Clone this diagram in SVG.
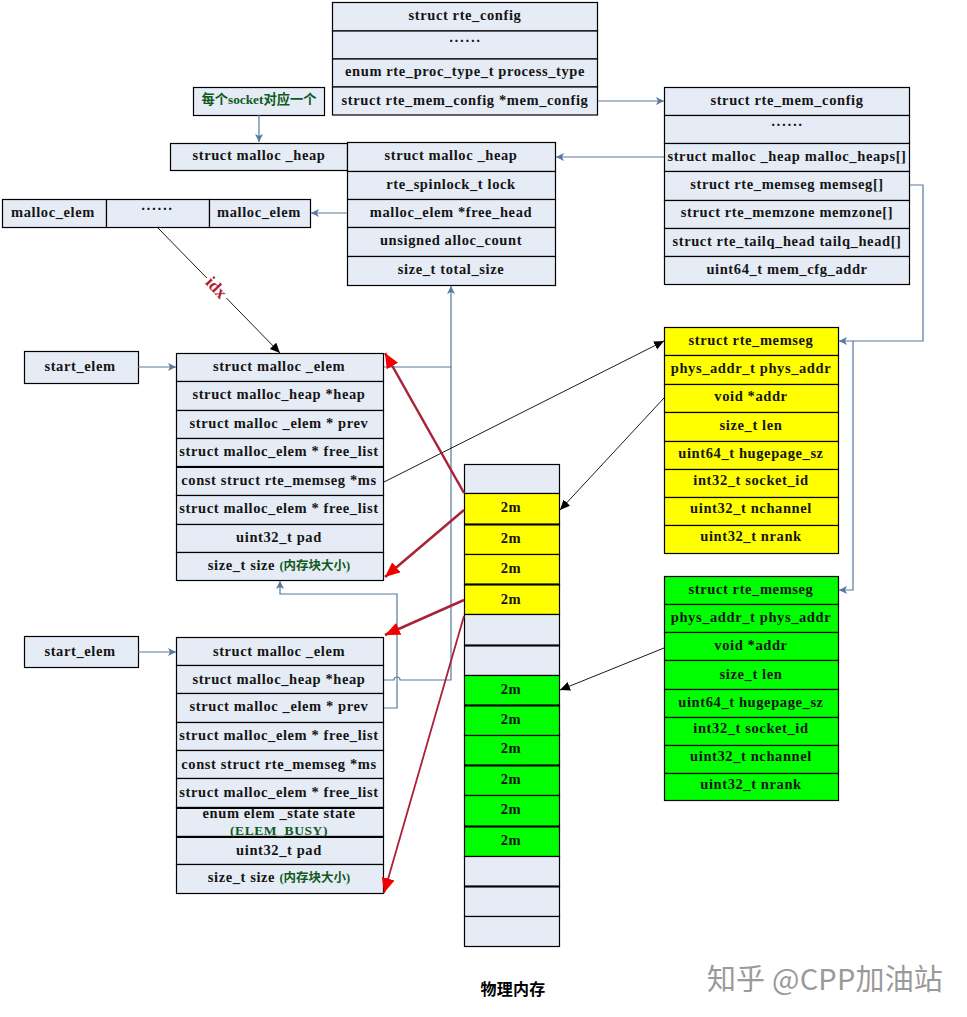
<svg xmlns="http://www.w3.org/2000/svg" width="967" height="1017" viewBox="0 0 967 1017">
<style>
.b{fill:#e6ecf6;stroke:#000;stroke-width:1.2}
.y{fill:#ffff00;stroke:#000;stroke-width:1.2}
.g{fill:#00ff00;stroke:#000;stroke-width:1.2}
text{font-family:"Liberation Serif","Noto Sans CJK SC",serif;font-weight:bold;font-size:14.5px;letter-spacing:.6px;fill:#151515;text-anchor:middle}
g text{transform:translateY(-.8px)}
.n{fill:#0f5a1c}
.z{font-size:12.5px;letter-spacing:0}
.c{fill:none;stroke:#57799c;stroke-width:1.2}
.k{fill:none;stroke:#000;stroke-width:.9}
.r{fill:none;stroke:#a82238;stroke-width:2.5}
</style>
<defs>
<marker id="ab" markerUnits="userSpaceOnUse" markerWidth="9" markerHeight="9" refX="8" refY="4" orient="auto"><path d="M0 0L8 4L0 8L2 4Z" fill="#57799c"/></marker>
<marker id="ak" markerUnits="userSpaceOnUse" markerWidth="11" markerHeight="10" refX="10" refY="4.5" orient="auto"><path d="M0 0L10 4.5L0 9Z" fill="#000"/></marker>
<marker id="ar" markerUnits="userSpaceOnUse" markerWidth="16" markerHeight="14" refX="15" refY="6.5" orient="auto"><path d="M0 0L15 6.500L0 13Z" fill="#f00000"/></marker>
</defs>
<rect width="967" height="1017" fill="#fff"/>
<g id="rte_config">
<rect class="b" x="332.500" y="2.500" width="265" height="28.500"/><rect class="b" x="332.500" y="31" width="265" height="28"/><rect class="b" x="332.500" y="59" width="265" height="28"/><rect class="b" x="332.500" y="87" width="265" height="28"/>
<text x="465" y="21">struct rte_config</text><text x="465" y="47">······</text><text x="465" y="77">enum rte_proc_type_t process_type</text><text x="465" y="106">struct rte_mem_config *mem_config</text>
</g>
<g id="rte_mem_config">
<rect class="b" x="664.500" y="87.500" width="245" height="28"/><rect class="b" x="664.500" y="115.500" width="245" height="28"/><rect class="b" x="664.500" y="143.500" width="245" height="28"/><rect class="b" x="664.500" y="171.500" width="245" height="29"/><rect class="b" x="664.500" y="200.500" width="245" height="28"/><rect class="b" x="664.500" y="228.500" width="245" height="28"/><rect class="b" x="664.500" y="256.500" width="245" height="28"/>
<text x="787" y="106">struct rte_mem_config</text><text x="787" y="131">······</text><text x="787" y="162">struct malloc _heap malloc_heaps[]</text><text x="787" y="190">struct rte_memseg memseg[]</text><text x="787" y="218">struct rte_memzone memzone[]</text><text x="787" y="247">struct rte_tailq_head tailq_head[]</text><text x="787" y="275">uint64_t mem_cfg_addr</text>
</g>
<g id="socket_note"><rect class="b" x="193.500" y="87.500" width="131" height="28"/><text class="n" x="259" y="105" style="font-size:13.300px;letter-spacing:0">每个socket对应一个</text></g>
<g id="malloc_heap_small"><rect class="b" x="170.500" y="143.500" width="177" height="27"/><text x="259" y="161">struct malloc _heap</text></g>
<g id="malloc_heap">
<rect class="b" x="347.500" y="142.500" width="208" height="29"/><rect class="b" x="347.500" y="171.500" width="208" height="28"/><rect class="b" x="347.500" y="199.500" width="208" height="28"/><rect class="b" x="347.500" y="227.500" width="208" height="29"/><rect class="b" x="347.500" y="256.500" width="208" height="29"/>
<text x="451" y="161">struct malloc _heap</text><text x="451" y="190">rte_spinlock_t lock</text><text x="451" y="218">malloc_elem *free_head</text><text x="451" y="246">unsigned alloc_count</text><text x="451" y="275">size_t total_size</text>
</g>
<g id="malloc_elem_list">
<rect class="b" x="2.500" y="199.500" width="104" height="28"/><rect class="b" x="106.500" y="199.500" width="103" height="28"/><rect class="b" x="209.500" y="199.500" width="101" height="28"/>
<text x="53" y="218">malloc_elem</text><text x="157" y="215">······</text><text x="259" y="218">malloc_elem</text>
</g>
<g id="start_elem_1"><rect class="b" x="24.500" y="351.500" width="114" height="32"/><text x="80" y="372">start_elem</text></g>
<g id="start_elem_2"><rect class="b" x="24.500" y="636.500" width="114" height="31"/><text x="80" y="657">start_elem</text></g>
<g id="elem_1">
<rect class="b" x="176.500" y="353.500" width="207" height="28"/><rect class="b" x="176.500" y="381.500" width="207" height="29"/><rect class="b" x="176.500" y="410.500" width="207" height="28"/><rect class="b" x="176.500" y="438.500" width="207" height="28"/><rect class="b" x="176.500" y="467" width="207" height="28.500"/><rect class="b" x="176.500" y="495.500" width="207" height="29"/><rect class="b" x="176.500" y="524.500" width="207" height="28"/><rect class="b" x="176.500" y="552.500" width="207" height="28"/>
<path d="M176 467H384" stroke="#000" stroke-width="2"/>
<text x="279" y="372">struct malloc _elem</text><text x="279" y="400">struct malloc_heap *heap</text><text x="279" y="429">struct malloc _elem * prev</text><text x="279" y="457">struct malloc_elem * free_list</text><text x="279" y="486">const struct rte_memseg *ms</text><text x="279" y="514">struct malloc_elem * free_list</text><text x="279" y="543">uint32_t pad</text><text x="279" y="571">size_t size <tspan class="n z">(内存块大小)</tspan></text>
</g>
<g id="elem_2">
<rect class="b" x="176.500" y="637.500" width="207" height="28"/><rect class="b" x="176.500" y="665.500" width="207" height="28"/><rect class="b" x="176.500" y="693.500" width="207" height="29"/><rect class="b" x="176.500" y="722.500" width="207" height="28"/><rect class="b" x="176.500" y="750.500" width="207" height="28"/><rect class="b" x="176.500" y="778.500" width="207" height="29"/><rect class="b" x="176.500" y="807.500" width="207" height="29"/><rect class="b" x="176.500" y="836.500" width="207" height="28"/><rect class="b" x="176.500" y="864.500" width="207" height="29"/>
<path d="M176 808H384M176 837H384" stroke="#000" stroke-width="2"/>
<text x="279" y="657">struct malloc _elem</text><text x="279" y="685">struct malloc_heap *heap</text><text x="279" y="712">struct malloc _elem * prev</text><text x="279" y="741">struct malloc_elem * free_list</text><text x="279" y="770">const struct rte_memseg *ms</text><text x="279" y="798">struct malloc_elem * free_list</text><text x="279" y="819">enum elem _state state</text><text class="n" x="279" y="836" style="font-size:13.500px">(ELEM_BUSY)</text><text x="279" y="856">uint32_t pad</text><text x="279" y="883">size_t size <tspan class="n z">(内存块大小)</tspan></text>
</g>
<g id="memseg_yellow">
<rect class="y" x="664.500" y="327.500" width="174" height="28"/><rect class="y" x="664.500" y="355.500" width="174" height="29"/><rect class="y" x="664.500" y="384.500" width="174" height="28"/><rect class="y" x="664.500" y="412.500" width="174" height="29"/><rect class="y" x="664.500" y="441.500" width="174" height="28"/><rect class="y" x="664.500" y="469.500" width="174" height="28"/><rect class="y" x="664.500" y="497.500" width="174" height="28"/><rect class="y" x="664.500" y="525.500" width="174" height="28"/>
<text x="751" y="346">struct rte_memseg</text><text x="751" y="374">phys_addr_t phys_addr</text><text x="751" y="402">void *addr</text><text x="751" y="431">size_t len</text><text x="751" y="459">uint64_t hugepage_sz</text><text x="751" y="486">int32_t socket_id</text><text x="751" y="514">uint32_t nchannel</text><text x="751" y="542">uint32_t nrank</text>
</g>
<g id="memseg_green">
<rect class="g" x="664.500" y="576.500" width="174" height="28"/><rect class="g" x="664.500" y="604.500" width="174" height="28"/><rect class="g" x="664.500" y="632.500" width="174" height="28"/><rect class="g" x="664.500" y="660.500" width="174" height="29"/><rect class="g" x="664.500" y="689.500" width="174" height="28"/><rect class="g" x="664.500" y="717.500" width="174" height="28"/><rect class="g" x="664.500" y="745.500" width="174" height="28"/><rect class="g" x="664.500" y="773.500" width="174" height="27"/>
<text x="751" y="595">struct rte_memseg</text><text x="751" y="623">phys_addr_t phys_addr</text><text x="751" y="651">void *addr</text><text x="751" y="680">size_t len</text><text x="751" y="708">uint64_t hugepage_sz</text><text x="751" y="734">int32_t socket_id</text><text x="751" y="762">uint32_t nchannel</text><text x="751" y="790">uint32_t nrank</text>
</g>
<g id="physical_memory">
<rect class="b" x="464.500" y="464.500" width="95" height="29"/>
<rect class="y" x="464.500" y="493.500" width="95" height="31"/><rect class="y" x="464.500" y="524.500" width="95" height="30"/><rect class="y" x="464.500" y="554.500" width="95" height="30"/><rect class="y" x="464.500" y="584.500" width="95" height="30"/>
<rect class="b" x="464.500" y="614.500" width="95" height="31"/><rect class="b" x="464.500" y="645.500" width="95" height="30"/>
<rect class="g" x="464.500" y="675.500" width="95" height="30"/><rect class="g" x="464.500" y="705.500" width="95" height="30"/><rect class="g" x="464.500" y="735.500" width="95" height="30"/><rect class="g" x="464.500" y="765.500" width="95" height="30"/><rect class="g" x="464.500" y="795.500" width="95" height="31"/><rect class="g" x="464.500" y="826.500" width="95" height="30"/>
<rect class="b" x="464.500" y="856.500" width="95" height="30"/><rect class="b" x="464.500" y="886.500" width="95" height="30"/><rect class="b" x="464.500" y="916.500" width="95" height="30"/>
<path d="M464 524.500H560M464 584.500H560M464 645.500H560M464 705.500H560M464 765.500H560M464 826.500H560M464 886.500H560" stroke="#000" stroke-width="1.800"/>
<text x="511" y="513">2m</text><text x="511" y="544">2m</text><text x="511" y="574">2m</text><text x="511" y="605">2m</text><text x="511" y="695">2m</text><text x="511" y="725">2m</text><text x="511" y="754">2m</text><text x="511" y="785">2m</text><text x="511" y="815">2m</text><text x="511" y="846">2m</text>
</g>
<g id="connectors">
<path class="c" marker-end="url(#ab)" d="M598 101H664"/>
<path class="c" marker-end="url(#ab)" d="M664 157H556"/>
<path class="c" marker-end="url(#ab)" d="M910 185H923V341H839"/>
<path class="c" marker-end="url(#ab)" d="M853 341V590H839"/>
<path class="c" marker-end="url(#ab)" d="M347 213H311"/>
<path class="c" marker-end="url(#ab)" d="M259 115V142"/>
<path class="c" marker-end="url(#ab)" d="M138 367H176"/>
<path class="c" marker-end="url(#ab)" d="M138 652H176"/>
<path class="c" marker-end="url(#ab)" d="M384 367H451V286"/>
<path class="c" d="M384 680H394A3 3 0 0 1 400 680H451V367"/>
<path class="c" marker-end="url(#ab)" d="M384 708H397V594H280V581"/>
<path class="k" marker-end="url(#ak)" d="M158 228L280 353"/>
<path class="k" marker-end="url(#ak)" d="M384 482L664 341"/>
<path class="k" marker-end="url(#ak)" d="M664 398L560 510"/>
<path class="k" marker-end="url(#ak)" d="M664 648L560 690"/>
<path class="r" marker-end="url(#ar)" d="M464 493L385 353"/>
<path class="r" marker-end="url(#ar)" d="M464 510L385 577"/>
<path class="r" marker-end="url(#ar)" d="M464 600L385 635"/>
<path class="r" style="stroke-width:1.800" marker-end="url(#ar)" d="M464 616L384 893"/>
</g>
<rect x="203" y="278" width="24" height="20" fill="#fff"/>
<text x="216" y="293" transform="rotate(47 216 288)" style="font-size:17px;fill:#b01c30;letter-spacing:0">idx</text>
<text x="513" y="995" style="font-size:16px;fill:#000;letter-spacing:.3px">物理内存</text>
<text x="825" y="990" style="font-family:'Noto Sans CJK SC','Liberation Sans',sans-serif;font-weight:normal;font-size:29px;fill:#9a9a9a;letter-spacing:.2px">知乎 @CPP加油站</text>
</svg>
